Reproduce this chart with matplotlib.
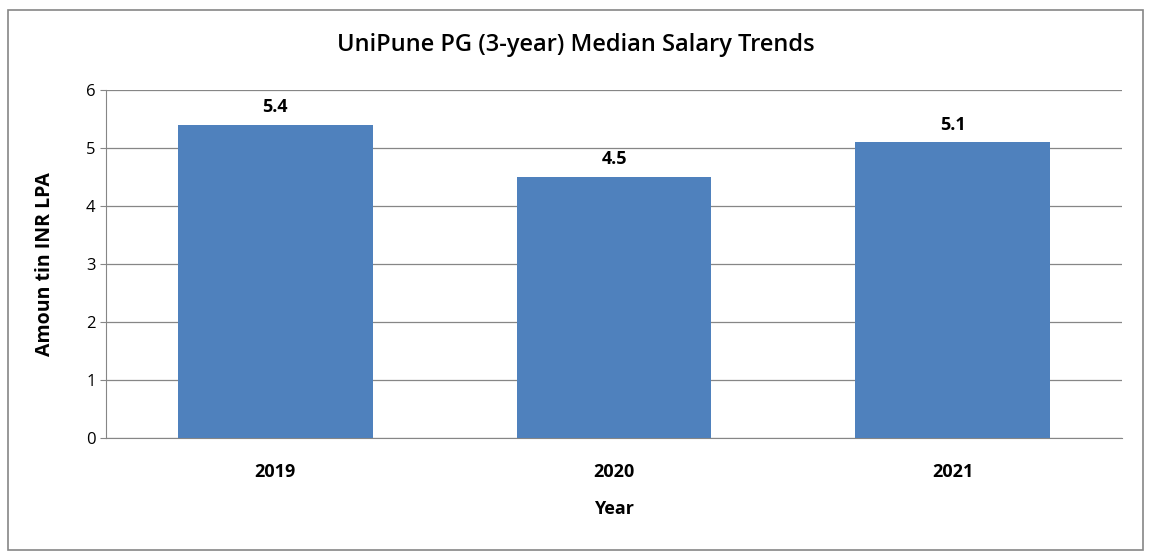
import matplotlib
matplotlib.use("Agg")
import matplotlib.pyplot as plt
from matplotlib.patches import Rectangle

years = ["2019", "2020", "2021"]
salaries = [5.4, 4.5, 5.1]
yticks = [0, 1, 2, 3, 4, 5, 6]

plt.rcParams['font.family'] = ['Open Sans', 'DejaVu Sans']
fig = plt.figure(figsize=(11.51, 5.6), dpi=100)
fig.patches.append(Rectangle((8/1151, 10/560), 1135/1151, 540/560, transform=fig.transFigure,
                             fill=False, edgecolor='#868686', linewidth=1.2))
ax = fig.add_axes([106/1151, 122/560, 1016/1151, 348/560])
x = range(len(years))
ax.bar(x, salaries, width=0.575, color='#4F81BD', zorder=3)
for xi, v in zip(x, salaries):
    ax.text(xi, v + 0.15, f"{v}", ha='center', va='bottom', fontsize=13, fontweight='bold')
ax.set_xlim(-0.5, 2.5)
ax.set_ylim(0, 6)
ax.set_yticks(yticks)
ax.set_xticks(list(x))
ax.set_xticklabels(years, fontweight='bold', fontsize=13)
ax.tick_params(axis='y', labelsize=12, length=4, color='#868686')
ax.tick_params(axis='x', length=0, pad=18)
ax.yaxis.grid(True, color='#868686', linewidth=0.9, zorder=0)
for s in ['top', 'right']:
    ax.spines[s].set_visible(False)
ax.spines['left'].set_color('#868686')
ax.spines['bottom'].set_color('#868686')
ax.set_xlabel("Year", fontsize=13, fontweight='bold', labelpad=14)
ax.set_ylabel("Amoun tin INR LPA", fontsize=14, fontweight='bold', labelpad=22)
fig.text(0.5, 1 - 45/560, "UniPune PG (3-year) Median Salary Trends", ha='center', va='center',
         fontsize=17, fontweight='semibold')
fig.savefig("out.png", dpi=100)
